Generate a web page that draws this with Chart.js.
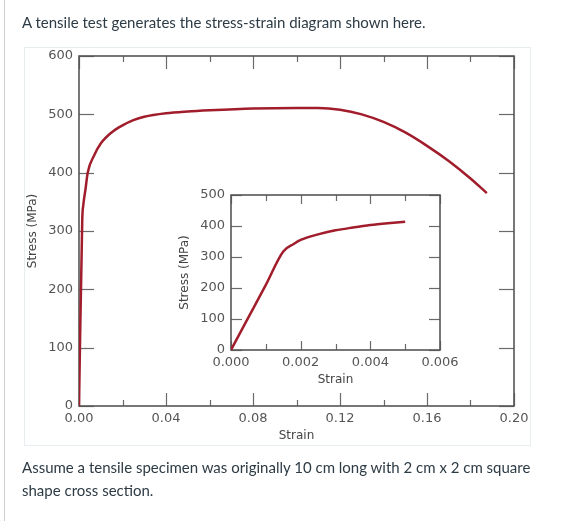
<!DOCTYPE html>
<html>
<head>
<meta charset="utf-8">
<script src="https://cdn.jsdelivr.net/npm/chart.js@4/dist/chart.umd.min.js"></script>
<style>
  body { margin: 0; width: 562px; height: 521px; background: #fff; position: relative; overflow: hidden; }
  .rule { position: absolute; left: 4px; top: 0; width: 1px; height: 521px; background: #cfcfcf; }
  .box { position: absolute; left: 24px; top: 47px; width: 505px; height: 397px; border: 1px solid #e8eef0; }
  .txt { position: absolute; left: 22px; font-family: Lato, sans-serif; font-size: 15px; color: #2d3b45; }
  #main { position: absolute; left: 0; top: 0; }
  #inset { position: absolute; left: 150px; top: 180px; }
</style>
</head>
<body>
<div class="rule"></div>
<div class="box"></div>
<canvas id="main" width="562" height="521"></canvas>
<canvas id="inset" width="320" height="215"></canvas>
<div class="txt" style="top:12px; line-height:20px;">A tensile test generates the stress-strain diagram shown here.</div>
<div class="txt" style="top:456px; line-height:23px;">Assume a tensile specimen was originally 10 cm long with 2 cm x 2 cm square<br>shape cross section.</div>
<script>
// full curve, strain (-) vs stress (MPa)
const strain = [0, 0.0015, 0.002, 0.003, 0.004, 0.007, 0.01, 0.015, 0.02, 0.025, 0.03, 0.04, 0.05, 0.06, 0.08, 0.10, 0.11, 0.12, 0.13, 0.14, 0.15, 0.16, 0.17, 0.18, 0.1875];
const stress = [0, 320, 345, 372, 400, 430, 450, 469, 481, 490, 496, 502, 505, 507, 510, 511, 511, 508, 500, 487, 469, 446, 420, 390, 365];

// inset: early part of the curve
const insetStrain = [0, 0.0005, 0.001, 0.0015, 0.0018, 0.002, 0.0025, 0.003, 0.0035, 0.004, 0.0045, 0.005];
const insetStress = [0, 105, 210, 318, 342, 355, 373, 386, 395, 403, 409, 414];

const tickFont = { family: "DejaVu Sans", size: 13 };
const titleFont = { family: "DejaVu Sans", size: 12 };
const lineColor = "#a11d2b";

// frame + ticks pointing into the plot
const frameTicks = {
  id: "frameTicks",
  beforeDatasetsDraw(chart, args, o) {
    const { ctx, chartArea: a, scales: { x, y } } = chart;
    const line = (x1, y1, x2, y2) => {
      ctx.beginPath(); ctx.moveTo(x1, y1); ctx.lineTo(x2, y2); ctx.stroke();
    };
    ctx.save();
    ctx.strokeStyle = "#6a6a6a";
    ctx.lineWidth = 1.2;
    x.ticks.forEach((t, i) => {
      const px = Math.round(x.getPixelForTick(i)) + 0.5;
      const len = t.label ? o.xMajor : o.xMinor;
      line(px, a.bottom, px, a.bottom - len);
      line(px, a.top, px, a.top + len);
    });
    y.ticks.forEach((t, i) => {
      const py = Math.round(y.getPixelForTick(i)) + 0.5;
      line(a.left, py, a.left + o.yLen, py);
      line(a.right, py, a.right - o.yLen, py);
    });
    ctx.strokeStyle = "#555";
    ctx.lineWidth = 1.6;
    ctx.strokeRect(a.left, a.top, a.width, a.height);
    ctx.restore();
  },
};

function makeChart(id, xs, ys, opt) {
  return new Chart(document.getElementById(id), {
    type: "line",
    data: {
      datasets: [{
        data: xs.map((v, i) => ({ x: v, y: ys[i] })),
        borderColor: lineColor,
        borderWidth: 2.5,
        pointRadius: 0,
        cubicInterpolationMode: "monotone",
      }],
    },
    options: {
      responsive: false,
      animation: false,
      layout: { padding: opt.padding },
      plugins: {
        legend: { display: false },
        tooltip: { enabled: false },
        frameTicks: opt.ticks,
      },
      scales: {
        x: {
          type: "linear",
          min: 0,
          max: opt.xMax,
          grid: { display: false, drawTicks: false },
          border: { display: false },
          ticks: {
            stepSize: opt.xStep,
            autoSkip: false,
            maxRotation: 0,
            padding: 5,
            color: "#555",
            font: tickFont,
            callback: (v) => {
              const k = Math.round(v / opt.xStep);
              return k % 2 === 0 ? v.toFixed(opt.digits) : "";
            },
          },
          title: { display: true, text: "Strain", color: "#444", font: titleFont },
          afterFit: (s) => { s.height = 41.2; },
        },
        y: {
          min: 0,
          max: opt.yMax,
          grid: { display: false, drawTicks: false },
          border: { display: false },
          ticks: { stepSize: 100, padding: 6, color: "#555", font: tickFont },
          title: { display: true, text: "Stress (MPa)", color: "#444", font: titleFont },
          afterFit: (s) => { s.width = 57; },
        },
      },
    },
    plugins: [frameTicks],
  });
}

makeChart("main", strain, stress, {
  padding: { left: 22, top: 56, right: 48, bottom: 73.8 },
  xMax: 0.2, xStep: 0.02, digits: 2, yMax: 600,
  ticks: { xMajor: 13, xMinor: 6, yLen: 15 },
});

makeChart("inset", insetStrain, insetStress, {
  padding: { left: 24, top: 15, right: 30, bottom: 3.8 },
  xMax: 0.006, xStep: 0.001, digits: 3, yMax: 500,
  ticks: { xMajor: 9, xMinor: 6, yLen: 11 },
});
</script>
</body>
</html>
